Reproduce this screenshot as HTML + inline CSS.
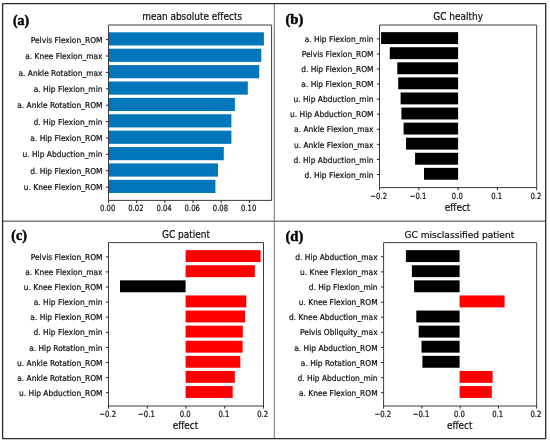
<!DOCTYPE html>
<html lang="en">
<head>
<meta charset="utf-8">
<title>Figure: mean absolute effects and GC effects</title>
<style>
html,body{margin:0;padding:0;background:#fff;}
body{width:550px;height:443px;overflow:hidden;}
svg{display:block;}
text{white-space:pre;stroke:#101010;stroke-width:0.22px;}
</style>
</head>
<body>
<svg width="550" height="443" viewBox="0 0 550 443" font-family='"DejaVu Sans", "Liberation Sans", sans-serif' stroke-linejoin="round">
<rect x="0" y="0" width="550" height="443" fill="#ffffff"/>
<g>
<rect x="108.50" y="32.30" width="155.40" height="13.20" fill="#0276bb"/>
<rect x="108.50" y="48.69" width="152.80" height="13.20" fill="#0276bb"/>
<rect x="108.50" y="65.08" width="150.70" height="13.20" fill="#0276bb"/>
<rect x="108.50" y="81.47" width="139.30" height="13.20" fill="#0276bb"/>
<rect x="108.50" y="97.86" width="126.40" height="13.20" fill="#0276bb"/>
<rect x="108.50" y="114.25" width="122.90" height="13.20" fill="#0276bb"/>
<rect x="108.50" y="130.64" width="122.90" height="13.20" fill="#0276bb"/>
<rect x="108.50" y="147.03" width="115.30" height="13.20" fill="#0276bb"/>
<rect x="108.50" y="163.42" width="109.50" height="13.20" fill="#0276bb"/>
<rect x="108.50" y="179.81" width="106.90" height="13.20" fill="#0276bb"/>
<rect x="108.50" y="25.00" width="163.10" height="175.40" fill="none" stroke="#3c3c3c" stroke-width="1.0"/>
<line x1="105.90" y1="39.60" x2="108.50" y2="39.60" stroke="#2a2a2a" stroke-width="1.0"/>
<text transform="translate(102.50,42.75) scale(0.925,1)" text-anchor="end" font-size="8.1" fill="#101010">Pelvis Flexion_ROM</text>
<line x1="105.90" y1="55.99" x2="108.50" y2="55.99" stroke="#2a2a2a" stroke-width="1.0"/>
<text transform="translate(102.50,59.14) scale(0.925,1)" text-anchor="end" font-size="8.1" fill="#101010">a. Knee Flexion_max</text>
<line x1="105.90" y1="72.38" x2="108.50" y2="72.38" stroke="#2a2a2a" stroke-width="1.0"/>
<text transform="translate(102.50,75.53) scale(0.925,1)" text-anchor="end" font-size="8.1" fill="#101010">a. Ankle Rotation_max</text>
<line x1="105.90" y1="88.77" x2="108.50" y2="88.77" stroke="#2a2a2a" stroke-width="1.0"/>
<text transform="translate(102.50,91.92) scale(0.925,1)" text-anchor="end" font-size="8.1" fill="#101010">a. Hip Flexion_min</text>
<line x1="105.90" y1="105.16" x2="108.50" y2="105.16" stroke="#2a2a2a" stroke-width="1.0"/>
<text transform="translate(102.50,108.31) scale(0.925,1)" text-anchor="end" font-size="8.1" fill="#101010">a. Ankle Rotation_ROM</text>
<line x1="105.90" y1="121.55" x2="108.50" y2="121.55" stroke="#2a2a2a" stroke-width="1.0"/>
<text transform="translate(102.50,124.70) scale(0.925,1)" text-anchor="end" font-size="8.1" fill="#101010">d. Hip Flexion_min</text>
<line x1="105.90" y1="137.94" x2="108.50" y2="137.94" stroke="#2a2a2a" stroke-width="1.0"/>
<text transform="translate(102.50,141.09) scale(0.925,1)" text-anchor="end" font-size="8.1" fill="#101010">a. Hip Flexion_ROM</text>
<line x1="105.90" y1="154.33" x2="108.50" y2="154.33" stroke="#2a2a2a" stroke-width="1.0"/>
<text transform="translate(102.50,157.48) scale(0.925,1)" text-anchor="end" font-size="8.1" fill="#101010">u. Hip Abduction_min</text>
<line x1="105.90" y1="170.72" x2="108.50" y2="170.72" stroke="#2a2a2a" stroke-width="1.0"/>
<text transform="translate(102.50,173.87) scale(0.925,1)" text-anchor="end" font-size="8.1" fill="#101010">d. Hip Flexion_ROM</text>
<line x1="105.90" y1="187.11" x2="108.50" y2="187.11" stroke="#2a2a2a" stroke-width="1.0"/>
<text transform="translate(102.50,190.26) scale(0.925,1)" text-anchor="end" font-size="8.1" fill="#101010">u. Knee Flexion_ROM</text>
<line x1="108.50" y1="200.40" x2="108.50" y2="203.00" stroke="#2a2a2a" stroke-width="1.0"/>
<text transform="translate(107.70,211.40) scale(0.81,1)" text-anchor="middle" font-size="8.5" fill="#101010">0.00</text>
<line x1="136.68" y1="200.40" x2="136.68" y2="203.00" stroke="#2a2a2a" stroke-width="1.0"/>
<text transform="translate(135.88,211.40) scale(0.81,1)" text-anchor="middle" font-size="8.5" fill="#101010">0.02</text>
<line x1="164.86" y1="200.40" x2="164.86" y2="203.00" stroke="#2a2a2a" stroke-width="1.0"/>
<text transform="translate(164.06,211.40) scale(0.81,1)" text-anchor="middle" font-size="8.5" fill="#101010">0.04</text>
<line x1="193.04" y1="200.40" x2="193.04" y2="203.00" stroke="#2a2a2a" stroke-width="1.0"/>
<text transform="translate(192.24,211.40) scale(0.81,1)" text-anchor="middle" font-size="8.5" fill="#101010">0.06</text>
<line x1="221.22" y1="200.40" x2="221.22" y2="203.00" stroke="#2a2a2a" stroke-width="1.0"/>
<text transform="translate(220.42,211.40) scale(0.81,1)" text-anchor="middle" font-size="8.5" fill="#101010">0.08</text>
<line x1="249.40" y1="200.40" x2="249.40" y2="203.00" stroke="#2a2a2a" stroke-width="1.0"/>
<text transform="translate(248.60,211.40) scale(0.81,1)" text-anchor="middle" font-size="8.5" fill="#101010">0.10</text>
<text transform="translate(192.15,19.80) scale(0.935,1)" text-anchor="middle" font-size="9.6" fill="#101010">mean absolute effects</text>
<text transform="translate(12.90,24.50) scale(0.99,1)" font-family='"Liberation Serif", "DejaVu Serif", serif' font-weight="bold" font-size="14" fill="#000" style="stroke:#000;stroke-width:0.45px">(a)</text>
</g>
<g>
<rect x="381.10" y="32.15" width="77.00" height="11.90" fill="#000000"/>
<rect x="389.80" y="47.23" width="68.30" height="11.90" fill="#000000"/>
<rect x="397.30" y="62.31" width="60.80" height="11.90" fill="#000000"/>
<rect x="398.20" y="77.39" width="59.90" height="11.90" fill="#000000"/>
<rect x="400.60" y="92.47" width="57.50" height="11.90" fill="#000000"/>
<rect x="401.40" y="107.55" width="56.70" height="11.90" fill="#000000"/>
<rect x="403.60" y="122.63" width="54.50" height="11.90" fill="#000000"/>
<rect x="406.00" y="137.71" width="52.10" height="11.90" fill="#000000"/>
<rect x="415.10" y="152.79" width="43.00" height="11.90" fill="#000000"/>
<rect x="424.00" y="167.87" width="34.10" height="11.90" fill="#000000"/>
<rect x="379.50" y="25.00" width="157.20" height="162.60" fill="none" stroke="#3c3c3c" stroke-width="1.0"/>
<line x1="376.90" y1="38.80" x2="379.50" y2="38.80" stroke="#2a2a2a" stroke-width="1.0"/>
<text transform="translate(373.50,41.95) scale(0.925,1)" text-anchor="end" font-size="8.1" fill="#101010">a. Hip Flexion_min</text>
<line x1="376.90" y1="53.88" x2="379.50" y2="53.88" stroke="#2a2a2a" stroke-width="1.0"/>
<text transform="translate(373.50,57.03) scale(0.925,1)" text-anchor="end" font-size="8.1" fill="#101010">Pelvis Flexion_ROM</text>
<line x1="376.90" y1="68.96" x2="379.50" y2="68.96" stroke="#2a2a2a" stroke-width="1.0"/>
<text transform="translate(373.50,72.11) scale(0.925,1)" text-anchor="end" font-size="8.1" fill="#101010">d. Hip Flexion_ROM</text>
<line x1="376.90" y1="84.04" x2="379.50" y2="84.04" stroke="#2a2a2a" stroke-width="1.0"/>
<text transform="translate(373.50,87.19) scale(0.925,1)" text-anchor="end" font-size="8.1" fill="#101010">a. Hip Flexion_ROM</text>
<line x1="376.90" y1="99.12" x2="379.50" y2="99.12" stroke="#2a2a2a" stroke-width="1.0"/>
<text transform="translate(373.50,102.27) scale(0.925,1)" text-anchor="end" font-size="8.1" fill="#101010">u. Hip Abduction_min</text>
<line x1="376.90" y1="114.20" x2="379.50" y2="114.20" stroke="#2a2a2a" stroke-width="1.0"/>
<text transform="translate(373.50,117.35) scale(0.925,1)" text-anchor="end" font-size="8.1" fill="#101010">u. Hip Abduction_ROM</text>
<line x1="376.90" y1="129.28" x2="379.50" y2="129.28" stroke="#2a2a2a" stroke-width="1.0"/>
<text transform="translate(373.50,132.43) scale(0.925,1)" text-anchor="end" font-size="8.1" fill="#101010">a. Ankle Flexion_max</text>
<line x1="376.90" y1="144.36" x2="379.50" y2="144.36" stroke="#2a2a2a" stroke-width="1.0"/>
<text transform="translate(373.50,147.51) scale(0.925,1)" text-anchor="end" font-size="8.1" fill="#101010">u. Ankle Flexion_max</text>
<line x1="376.90" y1="159.44" x2="379.50" y2="159.44" stroke="#2a2a2a" stroke-width="1.0"/>
<text transform="translate(373.50,162.59) scale(0.925,1)" text-anchor="end" font-size="8.1" fill="#101010">d. Hip Abduction_min</text>
<line x1="376.90" y1="174.52" x2="379.50" y2="174.52" stroke="#2a2a2a" stroke-width="1.0"/>
<text transform="translate(373.50,177.67) scale(0.925,1)" text-anchor="end" font-size="8.1" fill="#101010">d. Hip Flexion_min</text>
<line x1="379.50" y1="187.60" x2="379.50" y2="190.20" stroke="#2a2a2a" stroke-width="1.0"/>
<text transform="translate(378.70,198.80) scale(0.81,1)" text-anchor="middle" font-size="8.5" fill="#101010">−0.2</text>
<line x1="418.80" y1="187.60" x2="418.80" y2="190.20" stroke="#2a2a2a" stroke-width="1.0"/>
<text transform="translate(418.00,198.80) scale(0.81,1)" text-anchor="middle" font-size="8.5" fill="#101010">−0.1</text>
<line x1="458.10" y1="187.60" x2="458.10" y2="190.20" stroke="#2a2a2a" stroke-width="1.0"/>
<text transform="translate(457.30,198.80) scale(0.81,1)" text-anchor="middle" font-size="8.5" fill="#101010">0.0</text>
<line x1="497.40" y1="187.60" x2="497.40" y2="190.20" stroke="#2a2a2a" stroke-width="1.0"/>
<text transform="translate(496.60,198.80) scale(0.81,1)" text-anchor="middle" font-size="8.5" fill="#101010">0.1</text>
<line x1="536.70" y1="187.60" x2="536.70" y2="190.20" stroke="#2a2a2a" stroke-width="1.0"/>
<text transform="translate(535.90,198.80) scale(0.81,1)" text-anchor="middle" font-size="8.5" fill="#101010">0.2</text>
<text transform="translate(458.10,19.80) scale(0.935,1)" text-anchor="middle" font-size="9.6" fill="#101010">GC healthy</text>
<text transform="translate(457.60,210.50) scale(0.875,1)" text-anchor="middle" font-size="10.2" fill="#101010">effect</text>
<text transform="translate(285.50,24.10) scale(1.04,1)" font-family='"Liberation Serif", "DejaVu Serif", serif' font-weight="bold" font-size="14" fill="#000" style="stroke:#000;stroke-width:0.45px">(b)</text>
</g>
<g>
<rect x="185.60" y="250.15" width="75.00" height="11.90" fill="#fe0000"/>
<rect x="185.60" y="265.25" width="69.20" height="11.90" fill="#fe0000"/>
<rect x="120.00" y="280.35" width="65.60" height="11.90" fill="#000000"/>
<rect x="185.60" y="295.45" width="60.70" height="11.90" fill="#fe0000"/>
<rect x="185.60" y="310.55" width="59.40" height="11.90" fill="#fe0000"/>
<rect x="185.60" y="325.65" width="57.20" height="11.90" fill="#fe0000"/>
<rect x="185.60" y="340.75" width="57.00" height="11.90" fill="#fe0000"/>
<rect x="185.60" y="355.85" width="54.70" height="11.90" fill="#fe0000"/>
<rect x="185.60" y="370.95" width="49.20" height="11.90" fill="#fe0000"/>
<rect x="185.60" y="386.05" width="47.10" height="11.90" fill="#fe0000"/>
<rect x="108.50" y="242.60" width="155.00" height="163.40" fill="none" stroke="#3c3c3c" stroke-width="1.0"/>
<line x1="105.90" y1="256.80" x2="108.50" y2="256.80" stroke="#2a2a2a" stroke-width="1.0"/>
<text transform="translate(102.50,259.95) scale(0.925,1)" text-anchor="end" font-size="8.1" fill="#101010">Pelvis Flexion_ROM</text>
<line x1="105.90" y1="271.90" x2="108.50" y2="271.90" stroke="#2a2a2a" stroke-width="1.0"/>
<text transform="translate(102.50,275.05) scale(0.925,1)" text-anchor="end" font-size="8.1" fill="#101010">a. Knee Flexion_max</text>
<line x1="105.90" y1="287.00" x2="108.50" y2="287.00" stroke="#2a2a2a" stroke-width="1.0"/>
<text transform="translate(102.50,290.15) scale(0.925,1)" text-anchor="end" font-size="8.1" fill="#101010">u. Knee Flexion_ROM</text>
<line x1="105.90" y1="302.10" x2="108.50" y2="302.10" stroke="#2a2a2a" stroke-width="1.0"/>
<text transform="translate(102.50,305.25) scale(0.925,1)" text-anchor="end" font-size="8.1" fill="#101010">a. Hip Flexion_min</text>
<line x1="105.90" y1="317.20" x2="108.50" y2="317.20" stroke="#2a2a2a" stroke-width="1.0"/>
<text transform="translate(102.50,320.35) scale(0.925,1)" text-anchor="end" font-size="8.1" fill="#101010">a. Hip Flexion_ROM</text>
<line x1="105.90" y1="332.30" x2="108.50" y2="332.30" stroke="#2a2a2a" stroke-width="1.0"/>
<text transform="translate(102.50,335.45) scale(0.925,1)" text-anchor="end" font-size="8.1" fill="#101010">d. Hip Flexion_min</text>
<line x1="105.90" y1="347.40" x2="108.50" y2="347.40" stroke="#2a2a2a" stroke-width="1.0"/>
<text transform="translate(102.50,350.55) scale(0.925,1)" text-anchor="end" font-size="8.1" fill="#101010">a. Hip Rotation_min</text>
<line x1="105.90" y1="362.50" x2="108.50" y2="362.50" stroke="#2a2a2a" stroke-width="1.0"/>
<text transform="translate(102.50,365.65) scale(0.925,1)" text-anchor="end" font-size="8.1" fill="#101010">u. Ankle Rotation_ROM</text>
<line x1="105.90" y1="377.60" x2="108.50" y2="377.60" stroke="#2a2a2a" stroke-width="1.0"/>
<text transform="translate(102.50,380.75) scale(0.925,1)" text-anchor="end" font-size="8.1" fill="#101010">a. Ankle Rotation_ROM</text>
<line x1="105.90" y1="392.70" x2="108.50" y2="392.70" stroke="#2a2a2a" stroke-width="1.0"/>
<text transform="translate(102.50,395.85) scale(0.925,1)" text-anchor="end" font-size="8.1" fill="#101010">u. Hip Abduction_ROM</text>
<line x1="108.50" y1="406.00" x2="108.50" y2="408.60" stroke="#2a2a2a" stroke-width="1.0"/>
<text transform="translate(107.70,417.10) scale(0.81,1)" text-anchor="middle" font-size="8.5" fill="#101010">−0.2</text>
<line x1="147.25" y1="406.00" x2="147.25" y2="408.60" stroke="#2a2a2a" stroke-width="1.0"/>
<text transform="translate(146.45,417.10) scale(0.81,1)" text-anchor="middle" font-size="8.5" fill="#101010">−0.1</text>
<line x1="186.00" y1="406.00" x2="186.00" y2="408.60" stroke="#2a2a2a" stroke-width="1.0"/>
<text transform="translate(185.20,417.10) scale(0.81,1)" text-anchor="middle" font-size="8.5" fill="#101010">0.0</text>
<line x1="224.75" y1="406.00" x2="224.75" y2="408.60" stroke="#2a2a2a" stroke-width="1.0"/>
<text transform="translate(223.95,417.10) scale(0.81,1)" text-anchor="middle" font-size="8.5" fill="#101010">0.1</text>
<line x1="263.50" y1="406.00" x2="263.50" y2="408.60" stroke="#2a2a2a" stroke-width="1.0"/>
<text transform="translate(262.70,417.10) scale(0.81,1)" text-anchor="middle" font-size="8.5" fill="#101010">0.2</text>
<text transform="translate(186.00,237.50) scale(0.935,1)" text-anchor="middle" font-size="9.6" fill="#101010">GC patient</text>
<text transform="translate(185.50,429.20) scale(0.875,1)" text-anchor="middle" font-size="10.2" fill="#101010">effect</text>
<text transform="translate(11.30,240.40) scale(1.0,1)" font-family='"Liberation Serif", "DejaVu Serif", serif' font-weight="bold" font-size="14" fill="#000" style="stroke:#000;stroke-width:0.45px">(c)</text>
</g>
<g>
<rect x="405.90" y="250.15" width="53.70" height="11.90" fill="#000000"/>
<rect x="411.90" y="265.25" width="47.70" height="11.90" fill="#000000"/>
<rect x="414.10" y="280.35" width="45.50" height="11.90" fill="#000000"/>
<rect x="459.60" y="295.45" width="45.00" height="11.90" fill="#fe0000"/>
<rect x="416.30" y="310.55" width="43.30" height="11.90" fill="#000000"/>
<rect x="418.70" y="325.65" width="40.90" height="11.90" fill="#000000"/>
<rect x="421.50" y="340.75" width="38.10" height="11.90" fill="#000000"/>
<rect x="422.40" y="355.85" width="37.20" height="11.90" fill="#000000"/>
<rect x="459.60" y="370.95" width="33.00" height="11.90" fill="#fe0000"/>
<rect x="459.60" y="386.05" width="32.20" height="11.90" fill="#fe0000"/>
<rect x="383.60" y="242.60" width="153.10" height="163.40" fill="none" stroke="#3c3c3c" stroke-width="1.0"/>
<line x1="381.00" y1="256.80" x2="383.60" y2="256.80" stroke="#2a2a2a" stroke-width="1.0"/>
<text transform="translate(377.60,259.95) scale(0.925,1)" text-anchor="end" font-size="8.1" fill="#101010">d. Hip Abduction_max</text>
<line x1="381.00" y1="271.90" x2="383.60" y2="271.90" stroke="#2a2a2a" stroke-width="1.0"/>
<text transform="translate(377.60,275.05) scale(0.925,1)" text-anchor="end" font-size="8.1" fill="#101010">u. Knee Flexion_max</text>
<line x1="381.00" y1="287.00" x2="383.60" y2="287.00" stroke="#2a2a2a" stroke-width="1.0"/>
<text transform="translate(377.60,290.15) scale(0.925,1)" text-anchor="end" font-size="8.1" fill="#101010">d. Hip Flexion_min</text>
<line x1="381.00" y1="302.10" x2="383.60" y2="302.10" stroke="#2a2a2a" stroke-width="1.0"/>
<text transform="translate(377.60,305.25) scale(0.925,1)" text-anchor="end" font-size="8.1" fill="#101010">u. Knee Flexion_ROM</text>
<line x1="381.00" y1="317.20" x2="383.60" y2="317.20" stroke="#2a2a2a" stroke-width="1.0"/>
<text transform="translate(377.60,320.35) scale(0.925,1)" text-anchor="end" font-size="8.1" fill="#101010">d. Knee Abduction_max</text>
<line x1="381.00" y1="332.30" x2="383.60" y2="332.30" stroke="#2a2a2a" stroke-width="1.0"/>
<text transform="translate(377.60,335.45) scale(0.925,1)" text-anchor="end" font-size="8.1" fill="#101010">Pelvis Obliquity_max</text>
<line x1="381.00" y1="347.40" x2="383.60" y2="347.40" stroke="#2a2a2a" stroke-width="1.0"/>
<text transform="translate(377.60,350.55) scale(0.925,1)" text-anchor="end" font-size="8.1" fill="#101010">a. Hip Abduction_ROM</text>
<line x1="381.00" y1="362.50" x2="383.60" y2="362.50" stroke="#2a2a2a" stroke-width="1.0"/>
<text transform="translate(377.60,365.65) scale(0.925,1)" text-anchor="end" font-size="8.1" fill="#101010">a. Hip Rotation_ROM</text>
<line x1="381.00" y1="377.60" x2="383.60" y2="377.60" stroke="#2a2a2a" stroke-width="1.0"/>
<text transform="translate(377.60,380.75) scale(0.925,1)" text-anchor="end" font-size="8.1" fill="#101010">d. Hip Abduction_min</text>
<line x1="381.00" y1="392.70" x2="383.60" y2="392.70" stroke="#2a2a2a" stroke-width="1.0"/>
<text transform="translate(377.60,395.85) scale(0.925,1)" text-anchor="end" font-size="8.1" fill="#101010">a. Knee Flexion_ROM</text>
<line x1="383.60" y1="406.00" x2="383.60" y2="408.60" stroke="#2a2a2a" stroke-width="1.0"/>
<text transform="translate(382.80,417.10) scale(0.81,1)" text-anchor="middle" font-size="8.5" fill="#101010">−0.2</text>
<line x1="421.88" y1="406.00" x2="421.88" y2="408.60" stroke="#2a2a2a" stroke-width="1.0"/>
<text transform="translate(421.07,417.10) scale(0.81,1)" text-anchor="middle" font-size="8.5" fill="#101010">−0.1</text>
<line x1="460.15" y1="406.00" x2="460.15" y2="408.60" stroke="#2a2a2a" stroke-width="1.0"/>
<text transform="translate(459.35,417.10) scale(0.81,1)" text-anchor="middle" font-size="8.5" fill="#101010">0.0</text>
<line x1="498.43" y1="406.00" x2="498.43" y2="408.60" stroke="#2a2a2a" stroke-width="1.0"/>
<text transform="translate(497.63,417.10) scale(0.81,1)" text-anchor="middle" font-size="8.5" fill="#101010">0.1</text>
<line x1="536.70" y1="406.00" x2="536.70" y2="408.60" stroke="#2a2a2a" stroke-width="1.0"/>
<text transform="translate(535.90,417.10) scale(0.81,1)" text-anchor="middle" font-size="8.5" fill="#101010">0.2</text>
<text transform="translate(459.35,237.50) scale(0.949,1)" text-anchor="middle" font-size="9.6" fill="#101010">GC misclassified patient</text>
<text transform="translate(459.65,429.20) scale(0.875,1)" text-anchor="middle" font-size="10.2" fill="#101010">effect</text>
<text transform="translate(285.50,240.80) scale(1.04,1)" font-family='"Liberation Serif", "DejaVu Serif", serif' font-weight="bold" font-size="14" fill="#000" style="stroke:#000;stroke-width:0.45px">(d)</text>
</g>
<line x1="274.3" y1="3.5" x2="274.3" y2="438.6" stroke="#7d7d7d" stroke-width="1.1"/>
<line x1="2.5" y1="221.2" x2="545.8" y2="221.2" stroke="#7d7d7d" stroke-width="1.4"/>
<rect x="2.6" y="3.6" width="543.1" height="435.0" fill="none" stroke="#2a2a2a" stroke-width="1.3"/>
</svg>
</body>
</html>
